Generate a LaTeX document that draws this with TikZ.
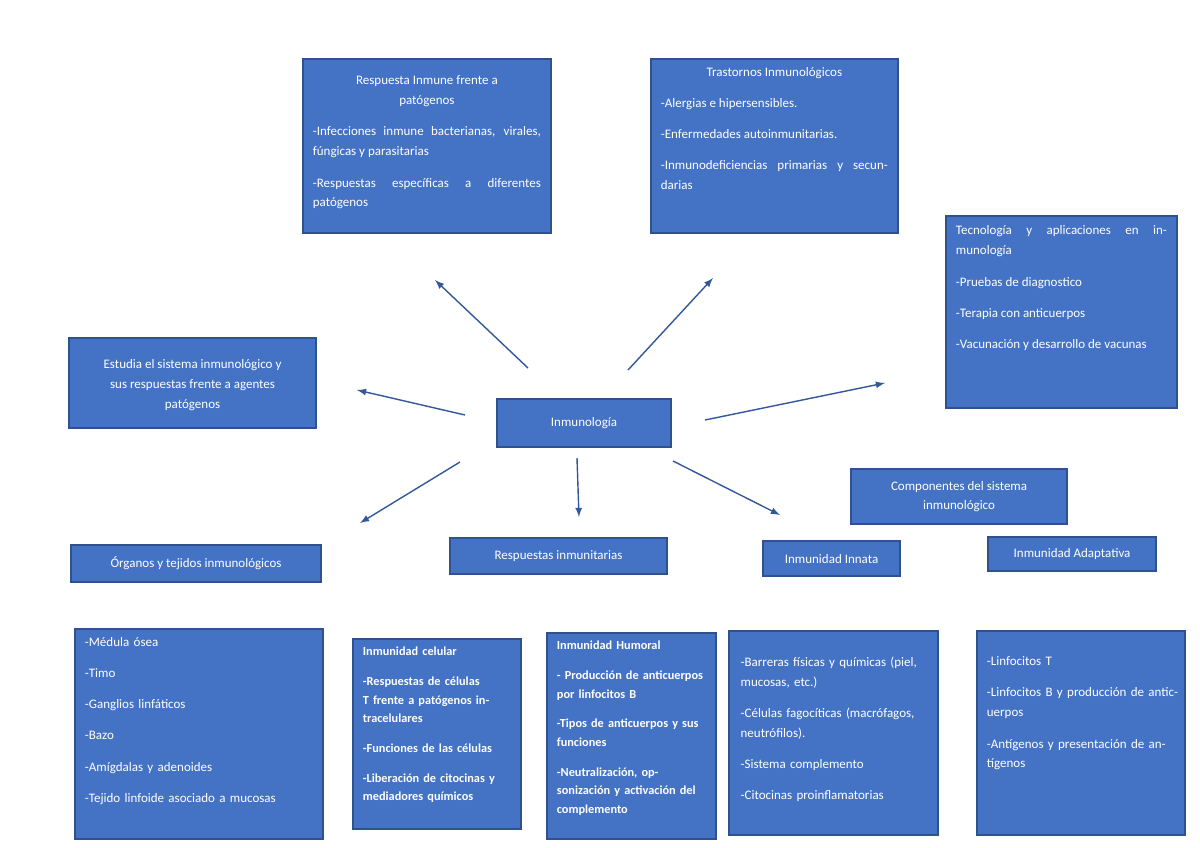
\documentclass[tikz,border=0pt]{standalone}
\usepackage{fontspec}
\setmainfont{Carlito}
\definecolor{boxfill}{HTML}{4472C4}
\definecolor{boxline}{HTML}{2F528F}
\tikzset{
  box/.style={draw=boxline, line width=1.2pt, fill=boxfill, inner sep=0pt, anchor=north west},
  txt/.style={anchor=north west, text=white, inner sep=0pt, align=justify,
    font=\fontsize{7.4}{11.3}\selectfont},
  ctxt/.style={text=white, inner sep=0pt, align=center, font=\fontsize{7.4}{11.3}\selectfont},
  link/.style={draw=boxline!80!boxfill, line width=0.8pt, -latex}
}
\newcommand{\para}{\par\vspace{6.5pt}}
\newcommand{\justtext}{\leftskip0pt\rightskip0pt\parfillskip0pt plus 1fil\relax}
% #1 name, #2 x, #3 y, #4 w, #5 h
\newcommand{\pbox}[5]{\node[box, minimum width=#4*0.02cm, minimum height=#5*0.02cm] (#1) at (#2,#3) {};}
\begin{document}
\begin{tikzpicture}[x=0.02cm, y=-0.02cm]
  \useasboundingbox (0,0) rectangle (1200,848);
  % Top boxes
  \pbox{resp}{302}{58}{248}{174}
  \node[txt, text width=228*0.02cm] at ([shift={(6pt,-10pt)}]resp.north west)
    {\centering Respuesta Inmune frente a\\ patógenos\par\vspace{6.5pt}
     \justtext -Infecciones inmune bacterianas, virales, fúngicas y parasitarias\para
     -Respuestas específicas a diferentes patógenos};
  \pbox{trast}{650}{58}{247}{174}
  \node[txt, text width=227*0.02cm] at ([shift={(6pt,-5pt)}]trast.north west)
    {\centering Trastornos Inmunológicos\par\vspace{6.5pt}
     \raggedright -Alergias e hipersensibles.\para
     -Enfermedades autoinmunitarias.\para
     \justtext -Inmunodeficiencias primarias y secundarias};
  \pbox{tecno}{945}{215}{231}{192}
  \node[txt, text width=211*0.02cm] at ([shift={(6pt,-6pt)}]tecno.north west)
    {Tecnología y aplicaciones en inmunología\para
     -Pruebas de diagnostico\para
     -Terapia con anticuerpos\para
     -Vacunación y desarrollo de vacunas};
  \pbox{estud}{68}{337}{247}{90}
  \node[ctxt] at ([yshift=-1pt]estud.center) {Estudia el sistema inmunológico y\\ sus respuestas frente a agentes\\ patógenos};
  \pbox{inmu}{496}{398}{174}{48}
  \node[ctxt] at (inmu.center) {Inmunología};
  % Middle row
  \pbox{comp}{850}{468}{216}{55}
  \node[ctxt] at (comp.center) {Componentes del sistema\\ inmunológico};
  \pbox{organ}{70}{544}{250}{37}
  \node[ctxt] at (organ.center) {Órganos y tejidos inmunológicos};
  \pbox{respinm}{449}{537}{217}{36}
  \node[ctxt] at (respinm.center) {Respuestas inmunitarias};
  \pbox{innata}{762}{540}{137}{35}
  \node[ctxt] at (innata.center) {Inmunidad Innata};
  \pbox{adapt}{987}{536}{168}{34}
  \node[ctxt] at (adapt.center) {Inmunidad Adaptativa};
  % Bottom boxes
  \pbox{medula}{74}{628}{248}{210}
  \node[txt, text width=228*0.02cm, align=left] at ([shift={(6pt,-5pt)}]medula.north west)
    {-Médula ósea\para -Timo\para -Ganglios linfáticos\para -Bazo\para
     -Amígdalas y adenoides\para -Tejido linfoide asociado a mucosas};
  \pbox{celular}{352}{638}{168}{190}
  \node[txt, text width=150*0.02cm, align=left, font=\fontsize{7}{10.5}\selectfont\bfseries] at ([shift={(6pt,-5pt)}]celular.north west)
    {Inmunidad celular\para -Respuestas de células T frente a patógenos intracelulares\para
     -Funciones de las células\para -Liberación de citocinas y mediadores químicos};
  \pbox{humoral}{546}{632}{169}{206}
  \node[txt, text width=151*0.02cm, align=left, font=\fontsize{7}{10.5}\selectfont\bfseries] at ([shift={(6pt,-5pt)}]humoral.north west)
    {Inmunidad Humoral\para - Producción de anticuerpos por linfocitos B\para
     -Tipos de anticuerpos y sus funciones\para
     -Neutralización, opsonización y activación del complemento};
  \pbox{barreras}{728}{630}{209}{204}
  \node[txt, text width=190*0.02cm, align=left] at ([shift={(7pt,-15pt)}]barreras.north west)
    {-Barreras físicas y químicas (piel, mucosas, etc.)\para
     -Células fagocíticas (macrófagos, neutrófilos).\para
     -Sistema complemento\para -Citocinas proinflamatorias};
  \pbox{linfo}{976}{630}{208}{204}
  \node[txt, text width=194*0.02cm, align=left] at ([shift={(6pt,-15pt)}]linfo.north west)
    {-Linfocitos T\para -Linfocitos B y producción de anticuerpos\para
     -Antígenos y presentación de antígenos};
  % Arrows
  \coordinate (a1s) at (528,368); \coordinate (a1e) at (435,280);
  \coordinate (a2s) at (628,370); \coordinate (a2e) at (713,278);
  \coordinate (a3s) at (465,415); \coordinate (a3e) at (357,390);
  \coordinate (a4s) at (705,420); \coordinate (a4e) at (885,383);
  \coordinate (a5s) at (460,462); \coordinate (a5e) at (360,523);
  \coordinate (a6s) at (577,458); \coordinate (a6e) at (579,517);
  \coordinate (a7s) at (673,461); \coordinate (a7e) at (780,515);
  \foreach \i in {1,...,7} \draw[link] (a\i s) -- (a\i e);
\end{tikzpicture}
\end{document}
